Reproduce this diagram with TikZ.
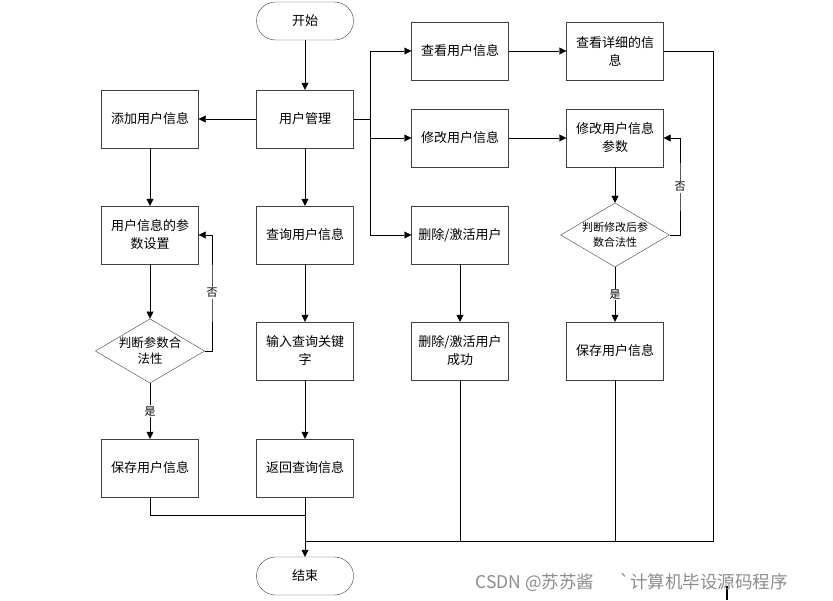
\documentclass[tikz,border=0pt]{standalone}
\usepackage{fontspec}
\setmainfont{Noto Sans CJK SC}
\usetikzlibrary{shapes.geometric,arrows.meta}
\begin{document}
\begin{tikzpicture}[x=1pt,y=-1pt,
  box/.style={draw=black!75,fill=white,minimum width=97pt,minimum height=58pt,text width=95pt,align=center,font=\fontsize{13}{18}\selectfont,inner sep=1pt},
  term/.style={draw=black!75,fill=white,rounded corners=19pt,minimum width=97pt,minimum height=38pt,font=\fontsize{13}{14}\selectfont},
  dia/.style={draw=black!75,fill=white,diamond,aspect=1.7,minimum width=97pt,minimum height=58pt,inner sep=0pt,align=center,font=\fontsize{12.5}{16}\selectfont},
  ar/.style={-{Triangle[length=7pt,width=7pt]},black},
  ln/.style={black},
  lab/.style={fill=white,inner sep=1pt,font=\fontsize{11}{12}\selectfont}]
\useasboundingbox (0,0) rectangle (833,600);
\node[term] (start) at (305,21) {开始};
\node[box] (um) at (305,119) {用户管理};
\node[box] (add) at (150,119) {添加用户信息};
\node[box] (set) at (150,235) {用户信息的参\\数设置};
\node[dia] (d1) at (150,351) {判断参数合\\法性};
\node[box] (save1) at (150,468) {保存用户信息};
\node[box] (q) at (305,235) {查询用户信息};
\node[box] (key) at (305,351) {输入查询关键\\字};
\node[box] (ret) at (305,468) {返回查询信息};
\node[box] (view) at (460,51) {查看用户信息};
\node[box] (mod) at (460,138) {修改用户信息};
\node[box] (del) at (460,235) {删除/激活用户};
\node[box] (delok) at (460,351) {删除/激活用户\\成功};
\node[box] (detail) at (615,51) {查看详细的信\\息};
\node[box] (modp) at (615,138) {修改用户信息\\参数};
\node[dia,font=\fontsize{11}{15}\selectfont] (d2) at (615,235) {判断修改后参\\数合法性};
\node[box] (save2) at (615,351) {保存用户信息};
\node[term] (end) at (305,576) {结束};
\coordinate (j) at (305,541);
\coordinate (br) at (370,119);

\draw[ar] (start) -- (um);
\draw[ar] (um) -- (add);
\draw[ar] (add) -- (set);
\draw[ar] (set) -- (d1);
\draw[ar] (d1) -- node[lab]{是} (save1);
\draw[ar] (d1.east) -| (212,293) node[lab]{否} |- (set.east);
\draw[ar] (um) -- (q);
\draw[ar] (q) -- (key);
\draw[ar] (key) -- (ret);
\draw[ln] (um.east) -- (br);
\draw[ar] (br) |- (view.west);
\draw[ar] (br) |- (mod.west);
\draw[ar] (br) |- (del.west);
\draw[ar] (view) -- (detail);
\draw[ar] (mod) -- (modp);
\draw[ar] (del) -- (delok);
\draw[ar] (modp) -- (d2);
\draw[ar] (d2) -- node[lab]{是} (save2);
\draw[ar] (d2.east) -| (680,187) node[lab]{否} |- (modp.east);
\draw[ln] (save1.south) |- (305,515);
\draw[ln] (ret.south) -- (j);
\draw[ln] (delok.south) |- (j);
\draw[ln] (save2.south) |- (j);
\draw[ln] (detail.east) -| (713,541) -- (j);
\draw[ar] (j) -- (end.north);
\draw[line width=1.2pt] (727,586) -- (727,600);
\node[text=black!45,font=\fontsize{17.5}{19}\selectfont,anchor=west] (wm) at (472,582) {CSDN @苏苏酱\quad\ \ \textasciigrave 计算机毕设源码程序};
\end{tikzpicture}
\end{document}
